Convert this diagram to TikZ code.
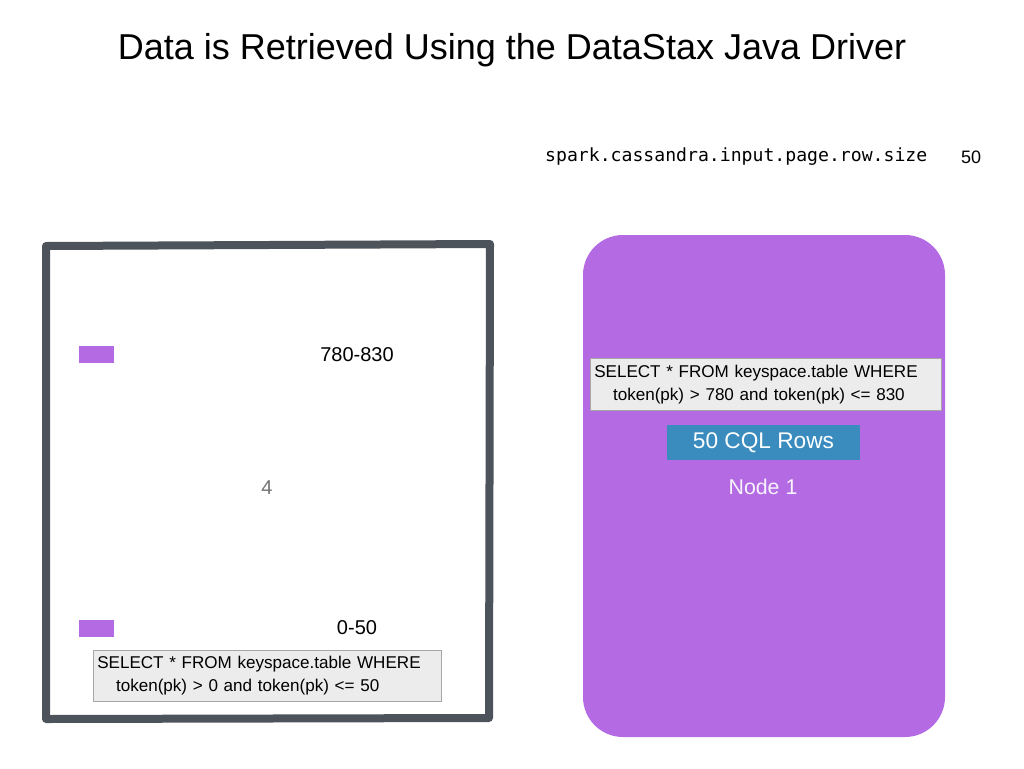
\documentclass[tikz,border=0pt]{standalone}
\usepackage{fontspec}
\setmainfont{Liberation Sans}
\setmonofont{DejaVu Sans Mono}
\begin{document}
\begin{tikzpicture}[x=0.75pt,y=-0.75pt,
  query/.style={draw=gray!70, fill=gray!15, align=left, anchor=north west, inner xsep=3pt, inner ysep=2pt, font=\fontsize{12.8}{17.5}\selectfont},
  lbl/.style={font=\fontsize{15}{17}\selectfont}]
\definecolor{purp}{HTML}{B36AE2}
\definecolor{frame}{HTML}{4D535A}
\definecolor{cql}{HTML}{3A8CBF}
\useasboundingbox (0,0) rectangle (1024,768);
\node[font=\fontsize{27}{31}\selectfont] (title) at (512,50) {Data is Retrieved Using the DataStax Java Driver};
\node[anchor=east, font=\ttfamily\fontsize{13.6}{15}\selectfont] (prop) at (932,157) {spark.cassandra.input.page.row.size};
\node[font=\fontsize{13.5}{15}\selectfont] (val) at (971,157) {50};
\draw[frame, line width=6pt, line join=round] (46,246) -- (490,244) -- (489,718) -- (46,719) -- cycle;
\node[fill=purp, minimum width=26pt, minimum height=13pt, inner sep=0pt] (c1) at (96.5,354.5) {};
\node[fill=purp, minimum width=26pt, minimum height=13pt, inner sep=0pt] (c2) at (96.5,628.5) {};
\node[lbl] (r1) at (357,355) {780-830};
\node[lbl, text=gray!90!black] (n4) at (267,488) {4};
\node[lbl] (r2) at (357,628) {0-50};
\node[query, text width=255pt, minimum height=38pt] (q1) at (93,650) {SELECT * FROM keyspace.table WHERE\\\hspace*{1.1em}token(pk) > 0 and token(pk) <= 50};
\fill[purp, rounded corners=30pt] (583,235) rectangle (945,737);
\node[query, text width=257pt, minimum height=39pt] (q2) at (590,358) {SELECT * FROM keyspace.table WHERE\\\hspace*{1.1em}token(pk) > 780 and token(pk) <= 830};
\node[fill=cql, text=white, minimum width=145pt, minimum height=26pt, font=\fontsize{17}{20}\selectfont] (rows) at (763.5,442.5) {50 CQL Rows};
\node[text=white!92!purp, font=\fontsize{16}{19}\selectfont] (node1) at (763,487) {Node 1};
\end{tikzpicture}
\end{document}
